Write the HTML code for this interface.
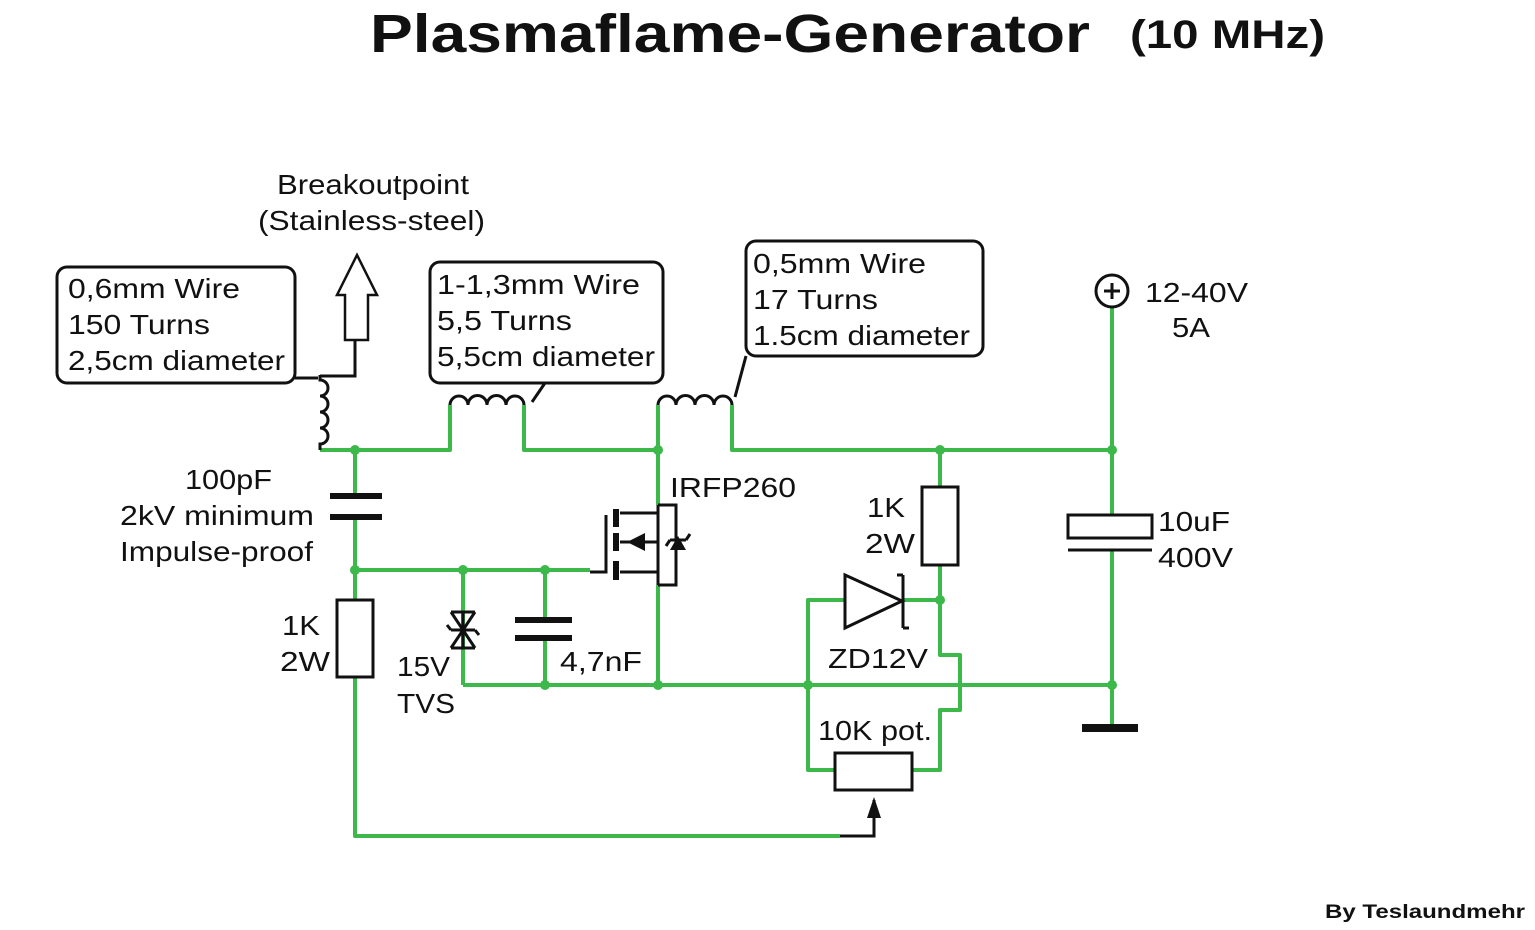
<!DOCTYPE html>
<html><head><style>
body{margin:0;background:#fff;}
svg{display:block;font-family:"Liberation Sans",Arial,sans-serif;}
</style></head><body>
<svg width="1535" height="930" viewBox="0 0 1535 930" xmlns="http://www.w3.org/2000/svg">
<rect width="1535" height="930" fill="#fff"/>
<text x="370" y="52" font-size="54" font-weight="bold" fill="#111" textLength="720" lengthAdjust="spacingAndGlyphs">Plasmaflame-Generator</text>
<text x="1130" y="48" font-size="40" font-weight="bold" fill="#111" textLength="195" lengthAdjust="spacingAndGlyphs">(10 MHz)</text>
<text x="1325" y="918" font-size="19" font-weight="bold" fill="#111" textLength="200" lengthAdjust="spacingAndGlyphs">By Teslaundmehr</text>

<g fill="none" stroke="#3db84b" stroke-width="4" stroke-linejoin="round">
<path d="M320 450H450V405M524 405V450H658V405M732 405V450H1112"/>
<path d="M355 450V496M355 517V600M355 677V836H840"/>
<path d="M355 570H590"/>
<path d="M463 570V685M545 570V620M545 638V685"/>
<path d="M463 685H1112"/>
<path d="M658 450V505M658 585V685"/>
<path d="M940 450V487M940 565V655H960V710H940V770H912M835 770H808V600H845M903 600H940"/>
<path d="M1112 307V515M1112 550V728"/>
</g>
<g fill="#3db84b">
<circle cx="355" cy="450" r="5"/><circle cx="658" cy="450" r="5"/><circle cx="940" cy="450" r="5"/><circle cx="1112" cy="450" r="5"/>
<circle cx="355" cy="570" r="5"/><circle cx="463" cy="570" r="5"/><circle cx="545" cy="570" r="5"/>
<circle cx="545" cy="685" r="5"/><circle cx="658" cy="685" r="5"/><circle cx="808" cy="685" r="5"/><circle cx="1112" cy="685" r="5"/><circle cx="940" cy="600" r="5"/>
</g>

<g fill="none" stroke="#111" stroke-width="3">
<path d="M320 375V380a8 8 0 0 1 0 16a8 8 0 0 1 0 16a8 8 0 0 1 0 16a8 8 0 0 1 0 16V450"/>
<path d="M320 376H355V340"/>
<path d="M345 340V295H337L357 255L377 295H368V340Z" stroke-width="2.5"/>
<path d="M450 405a9 9 0 0 1 18 0a9 9 0 0 1 19 0a9 9 0 0 1 19 0a9 9 0 0 1 18 0"/>
<path d="M658 405a9 9 0 0 1 18 0a9 9 0 0 1 19 0a9 9 0 0 1 19 0a9 9 0 0 1 18 0"/>
<rect x="57" y="267" width="238" height="116" rx="10"/>
<path d="M295 378H318"/>
<rect x="430" y="262" width="233" height="121" rx="10"/>
<path d="M545 383L532 402"/>
<rect x="746" y="241" width="237" height="115" rx="10"/>
<path d="M746 356L735 397"/>
<rect x="337" y="600" width="36" height="77"/>
<rect x="922" y="487" width="36" height="78"/>
<rect x="835" y="753" width="77" height="37"/>
<path d="M451 612H475M451 648H475M451 612L475 648M475 612L451 648M463 612V648M451 630H475M451 630L447 625M475 630L479 635"/>
<path d="M845 575V628L902 601ZM903 575V628M897 575H903M903 628H909"/>
<path d="M606 515V572H590"/>
<path d="M658 505V513H620M620 542H658M620 572H658V585M658 513V585"/>
<path d="M658 505H676V585H658"/>
<path d="M670 540H686M686 540L690 534M670 540L666 546"/>
<path d="M840 836H874V800"/>
<circle cx="1112" cy="291" r="16"/>
<path d="M1104 291H1120M1112 283V299"/>
<rect x="1068" y="515" width="84" height="23"/>
<path d="M1068 550H1152"/>
</g>
<g stroke="#111" stroke-width="6">
<path d="M616 509V527M616 533V551M616 561V580"/>
<path d="M330 496H382M330 517H382"/>
<path d="M515 620H572M515 638H572"/>
<path d="M1082 728H1138" stroke-width="8"/>
</g>
<g fill="#111">
<path d="M627 542L645 533V551Z"/>
<path d="M670 550L686 550L678 536Z"/>
<path d="M874 797L867 818H881Z"/>
</g>

<g font-size="28" fill="#111" lengthAdjust="spacingAndGlyphs">
<text x="68" y="298" textLength="172" lengthAdjust="spacingAndGlyphs">0,6mm Wire</text>
<text x="68" y="334" textLength="142" lengthAdjust="spacingAndGlyphs">150 Turns</text>
<text x="68" y="370" textLength="217" lengthAdjust="spacingAndGlyphs">2,5cm diameter</text>
<text x="437" y="294" textLength="203" lengthAdjust="spacingAndGlyphs">1-1,3mm Wire</text>
<text x="437" y="330" textLength="135" lengthAdjust="spacingAndGlyphs">5,5 Turns</text>
<text x="437" y="366" textLength="218" lengthAdjust="spacingAndGlyphs">5,5cm diameter</text>
<text x="753" y="273" textLength="173" lengthAdjust="spacingAndGlyphs">0,5mm Wire</text>
<text x="753" y="309" textLength="125" lengthAdjust="spacingAndGlyphs">17 Turns</text>
<text x="753" y="345" textLength="217" lengthAdjust="spacingAndGlyphs">1.5cm diameter</text>
<text x="277" y="194" textLength="192" lengthAdjust="spacingAndGlyphs">Breakoutpoint</text>
<text x="258" y="230" textLength="227" lengthAdjust="spacingAndGlyphs">(Stainless-steel)</text>
<text x="185" y="489" textLength="87" lengthAdjust="spacingAndGlyphs">100pF</text>
<text x="120" y="525" textLength="194" lengthAdjust="spacingAndGlyphs">2kV minimum</text>
<text x="120" y="561" textLength="193" lengthAdjust="spacingAndGlyphs">Impulse-proof</text>
<text x="282" y="635" textLength="38" lengthAdjust="spacingAndGlyphs">1K</text>
<text x="280" y="671" textLength="50" lengthAdjust="spacingAndGlyphs">2W</text>
<text x="397" y="676" textLength="53" lengthAdjust="spacingAndGlyphs">15V</text>
<text x="397" y="713" textLength="58" lengthAdjust="spacingAndGlyphs">TVS</text>
<text x="560" y="671" textLength="82" lengthAdjust="spacingAndGlyphs">4,7nF</text>
<text x="670" y="497" textLength="126" lengthAdjust="spacingAndGlyphs">IRFP260</text>
<text x="867" y="517" textLength="38" lengthAdjust="spacingAndGlyphs">1K</text>
<text x="865" y="553" textLength="50" lengthAdjust="spacingAndGlyphs">2W</text>
<text x="828" y="668" textLength="100" lengthAdjust="spacingAndGlyphs">ZD12V</text>
<text x="818" y="740" textLength="114" lengthAdjust="spacingAndGlyphs">10K pot.</text>
<text x="1145" y="302" textLength="103" lengthAdjust="spacingAndGlyphs">12-40V</text>
<text x="1172" y="337" textLength="38" lengthAdjust="spacingAndGlyphs">5A</text>
<text x="1158" y="531" textLength="72" lengthAdjust="spacingAndGlyphs">10uF</text>
<text x="1158" y="567" textLength="75" lengthAdjust="spacingAndGlyphs">400V</text>
</g>
</svg>
</body></html>
